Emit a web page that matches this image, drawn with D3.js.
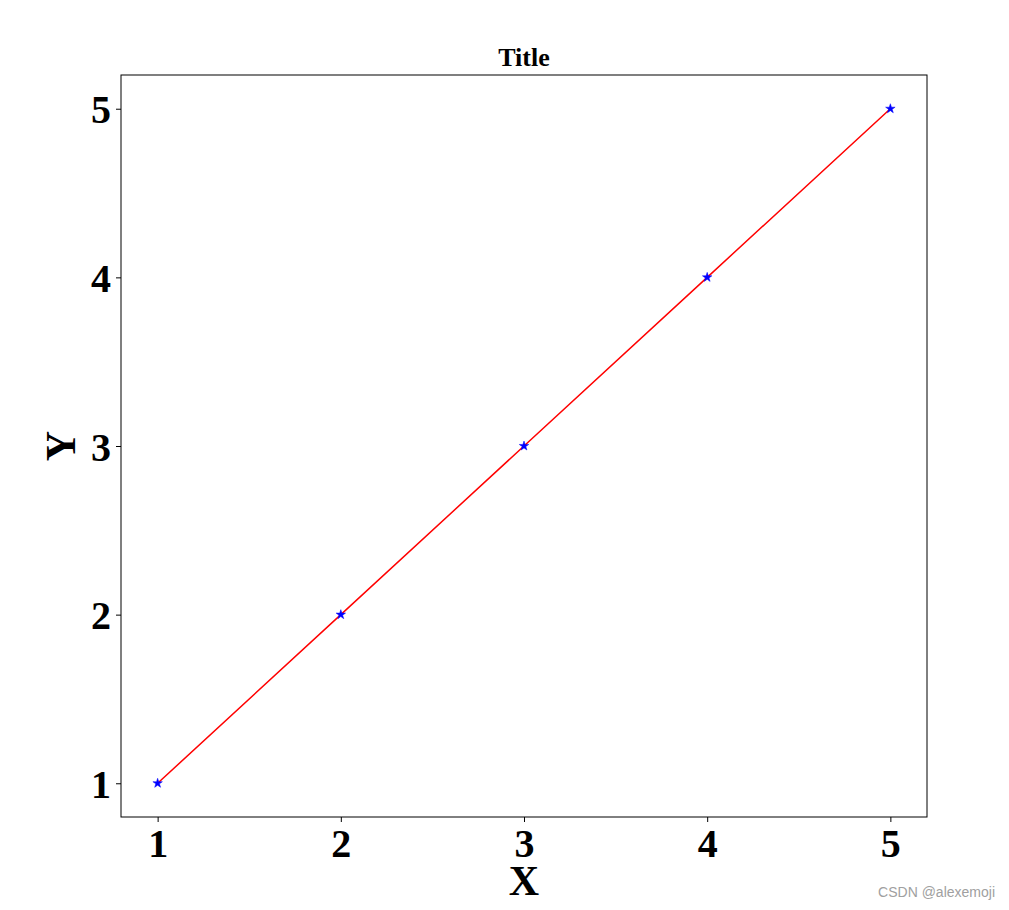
<!DOCTYPE html>
<html>
<head>
<meta charset="utf-8">
<script src="https://cdn.jsdelivr.net/npm/d3@7"></script>
<style>
  body { margin: 0; background: #fff; }
  svg { display: block; }
</style>
</head>
<body>
<div id="chart"></div>
<script>
// data
var xValues = [1, 2, 3, 4, 5];
var yValues = [1, 2, 3, 4, 5];
var tickValues = [1, 2, 3, 4, 5];

var width = 1009, height = 910;
var margin = {top: 75, right: 82, bottom: 93, left: 121};
var plotW = width - margin.left - margin.right;
var plotH = height - margin.top - margin.bottom;

var svg = d3.select("#chart").append("svg")
    .attr("width", width)
    .attr("height", height);

var g = svg.append("g")
    .attr("transform", "translate(" + margin.left + "," + margin.top + ")");

// matplotlib-like 5% padding
var x = d3.scaleLinear().domain([0.8, 5.2]).range([0, plotW]);
var y = d3.scaleLinear().domain([0.8, 5.2]).range([plotH, 0]);

var xAxis = g.append("g")
    .attr("transform", "translate(0," + plotH + ")")
    .call(d3.axisBottom(x).tickValues(tickValues).tickFormat(d3.format("d")).tickSize(5).tickPadding(4));

var yAxis = g.append("g")
    .call(d3.axisLeft(y).tickValues(tickValues).tickFormat(d3.format("d")).tickSize(5).tickPadding(5));

[xAxis, yAxis].forEach(function(a) {
    a.select(".domain").remove();
    a.selectAll(".tick line").attr("stroke", "#000").attr("stroke-width", 1);
    a.selectAll(".tick text")
        .attr("fill", "#000")
        .style("font-family", "'Liberation Serif', 'Times New Roman', serif")
        .style("font-weight", "bold")
        .style("font-size", "40px");
});
xAxis.selectAll(".tick text").attr("dy", "0.78em");
yAxis.selectAll(".tick text").attr("dy", "0.35em");

// frame
g.append("rect")
    .attr("width", plotW)
    .attr("height", plotH)
    .attr("fill", "none")
    .attr("stroke", "#000")
    .attr("stroke-width", 1);

var points = xValues.map(function(d, i) { return {x: d, y: yValues[i]}; });

var line = d3.line()
    .x(function(d) { return x(d.x); })
    .y(function(d) { return y(d.y); });

g.append("path")
    .datum(points)
    .attr("d", line)
    .attr("fill", "none")
    .attr("stroke", "red")
    .attr("stroke-width", 1.5);

g.selectAll(".marker").data(points)
    .enter().append("path")
    .attr("class", "marker")
    .attr("d", d3.symbol().type(d3.symbolStar).size(28))
    .attr("transform", function(d) { return "translate(" + x(d.x) + "," + y(d.y) + ")"; })
    .attr("fill", "blue")
    .attr("stroke", "blue")
    .attr("stroke-width", 0.5);

// title
svg.append("text")
    .attr("x", margin.left + plotW / 2)
    .attr("y", margin.top - 9)
    .attr("text-anchor", "middle")
    .style("font-family", "'Liberation Serif', 'Times New Roman', serif")
    .style("font-weight", "bold")
    .style("font-size", "26px")
    .text("Title");

// axis labels
svg.append("text")
    .attr("x", margin.left + plotW / 2)
    .attr("y", 895)
    .attr("text-anchor", "middle")
    .style("font-family", "'Liberation Serif', 'Times New Roman', serif")
    .style("font-weight", "bold")
    .style("font-size", "42px")
    .text("X");

svg.append("text")
    .attr("transform", "translate(75," + (margin.top + plotH / 2) + ") rotate(-90)")
    .attr("text-anchor", "middle")
    .style("font-family", "'Liberation Serif', 'Times New Roman', serif")
    .style("font-weight", "bold")
    .style("font-size", "42px")
    .text("Y");

// watermark
svg.append("text")
    .attr("x", 995)
    .attr("y", 897)
    .attr("text-anchor", "end")
    .attr("fill", "#a0a0a0")
    .style("font-family", "'Liberation Sans', Arial, sans-serif")
    .style("font-size", "14px")
    .text("CSDN @alexemoji");
</script>
</body>
</html>
